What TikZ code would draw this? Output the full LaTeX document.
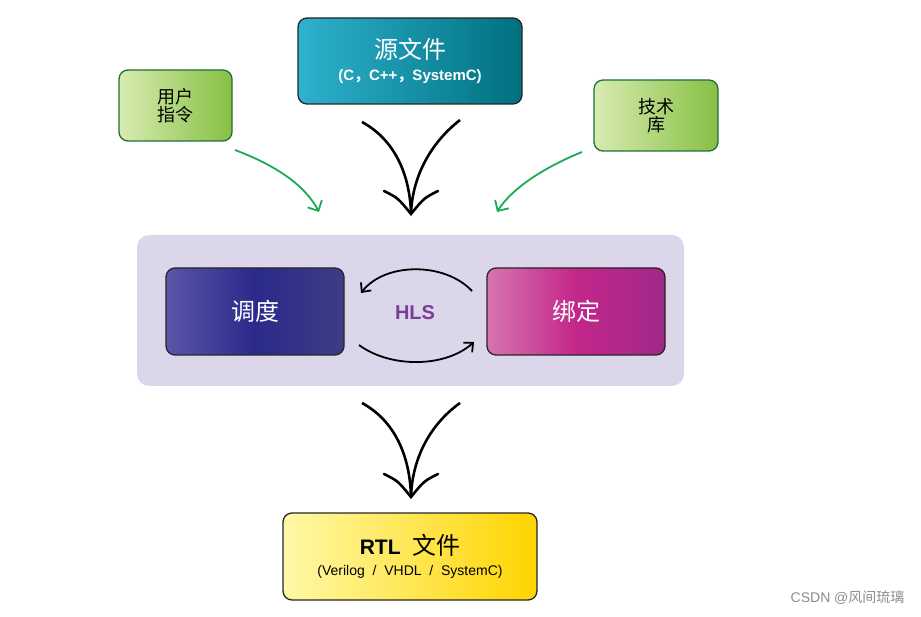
\documentclass[tikz,border=0pt]{standalone}
\usepackage{fontspec}
\setmainfont{Liberation Sans}
\newfontfamily\cjk{Noto Sans CJK SC}
\usetikzlibrary{arrows.meta}
\definecolor{tealL}{HTML}{2EB2CE}\definecolor{tealR}{HTML}{00707F}
\definecolor{grL}{HTML}{D8EBB0}\definecolor{grR}{HTML}{86C044}
\definecolor{grB}{HTML}{1F6F3A}\definecolor{grA}{HTML}{1AAA55}
\definecolor{panel}{HTML}{DCD6EA}
\definecolor{blL}{HTML}{5A56A8}\definecolor{blM}{HTML}{2A2A8A}\definecolor{blR}{HTML}{3E3C86}
\definecolor{pkL}{HTML}{D874AE}\definecolor{pkM}{HTML}{C2278A}\definecolor{pkR}{HTML}{A02888}
\definecolor{yeL}{HTML}{FFF9A8}\definecolor{yeR}{HTML}{FFD400}
\definecolor{hls}{HTML}{7A3D9A}
\tikzset{
 boxs/.style={draw=black!85,line width=1.3pt,rounded corners=9pt,align=center,inner sep=0pt},
 garrow/.style={grA,line width=1.8pt,-{Straight Barb[length=8pt,width=16pt]}},
 barrow/.style={black,line width=2.6pt},
 carrow/.style={black,line width=1.8pt,-{Straight Barb[length=7pt,width=13pt]}}
}
\begin{document}
\begin{tikzpicture}[x=1pt,y=-1pt]
\useasboundingbox (0,0) rectangle (921,617);
\node[fill=panel,rounded corners=12pt,minimum width=547pt,minimum height=151pt,inner sep=0pt] (panel) at (410.5,310.5) {};
\node[boxs,left color=tealL,right color=tealR,minimum width=224pt,minimum height=86pt,text=white] (src) at (410,61)
 {{\cjk\fontsize{24}{28}\selectfont 源文件}\\[8pt]{\bfseries\fontsize{15}{18}\selectfont (C{\cjk ，}C++{\cjk ，}SystemC)}};
\node[boxs,draw=grB,left color=grL,right color=grR,minimum width=113pt,minimum height=71pt] (usr) at (175.5,105.5)
 {{\cjk\fontsize{18}{24}\selectfont 用户}\\{\cjk\fontsize{18}{24}\selectfont 指令}};
\node[boxs,draw=grB,left color=grL,right color=grR,minimum width=124pt,minimum height=71pt] (tech) at (656,115.5)
 {{\cjk\fontsize{18}{24}\selectfont 技术}\\{\cjk\fontsize{18}{24}\selectfont 库}};
\node[boxs,left color=blL,right color=blR,middle color=blM,minimum width=178pt,minimum height=87pt,text=white] (sch) at (255,311.5)
 {\cjk\fontsize{24}{28}\selectfont 调度};
\node[boxs,left color=pkL,right color=pkR,middle color=pkM,minimum width=178pt,minimum height=87pt,text=white] (bind) at (576,311.5)
 {\cjk\fontsize{24}{28}\selectfont 绑定};
\node[text=hls,font=\bfseries\fontsize{20}{24}\selectfont] (hls) at (415,313) {HLS};
\node[boxs,left color=yeL,right color=yeR,minimum width=254pt,minimum height=87pt] (rtl) at (410,556.5)
 {{\bfseries\fontsize{21}{26}\selectfont RTL\ \ }{\cjk\fontsize{24}{28}\selectfont 文件}\\[8pt]{\fontsize{14}{18}\selectfont (Verilog\ \ /\ \ VHDL\ \ /\ \ SystemC)}};
\coordinate (g1s) at (235,150); \coordinate (g1e) at (319,212);
\coordinate (g2s) at (582,152); \coordinate (g2e) at (497,212);
\draw[garrow] (g1s) .. controls (275,165) and (305,185) .. (g1e);
\draw[garrow] (g2s) .. controls (545,167) and (512,188) .. (g2e);
\coordinate (t1) at (362,122); \coordinate (t2) at (460,120); \coordinate (tv) at (411,214);
\draw[barrow] (t1) .. controls (395,140) and (410,175) .. (tv);
\draw[barrow] (t2) .. controls (428,145) and (412,180) .. (tv);
\draw[barrow,line cap=round] (384,191) .. controls (398,198) .. (tv) .. controls (424,198) .. (438,191);
\coordinate (b1) at (362,403); \coordinate (b2) at (460,403); \coordinate (bv) at (411,497);
\draw[barrow] (b1) .. controls (395,421) and (410,456) .. (bv);
\draw[barrow] (b2) .. controls (428,426) and (412,461) .. (bv);
\draw[barrow,line cap=round] (384,474) .. controls (398,481) .. (bv) .. controls (424,481) .. (438,474);
\coordinate (c1s) at (472,291); \coordinate (c1e) at (361,293);
\coordinate (c2s) at (359,345); \coordinate (c2e) at (474,342);
\draw[carrow] (c1s) .. controls (445,262) and (385,262) .. (c1e);
\draw[carrow] (c2s) .. controls (390,368) and (445,368) .. (c2e);
\node[text=black!45,font=\fontsize{14}{16}\selectfont,anchor=east] (wm) at (908,598) {CSDN @{\cjk 风间琉璃}};
\end{tikzpicture}
\end{document}
